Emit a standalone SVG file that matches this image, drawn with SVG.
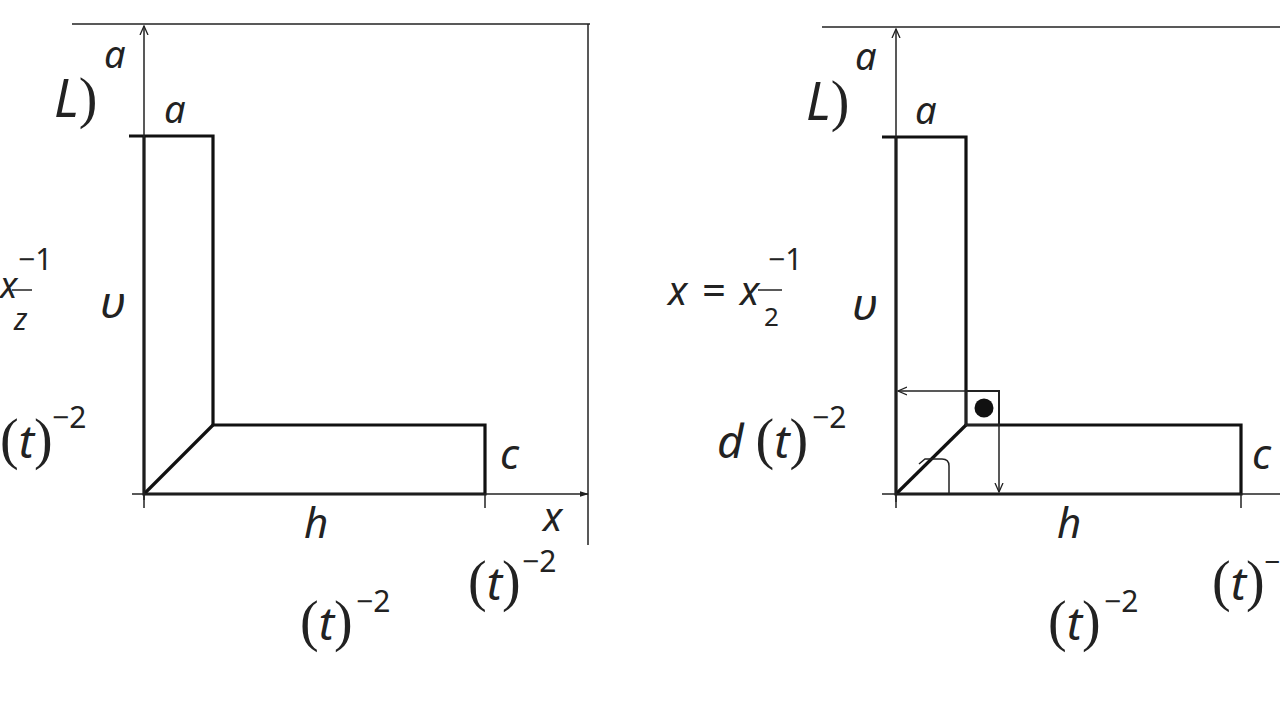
<svg xmlns="http://www.w3.org/2000/svg" width="1280" height="720" viewBox="0 0 1280 720">
<style>
.thin{stroke:#222;stroke-width:1.5;fill:none}
.thick{stroke:#111;stroke-width:3.2;fill:none;stroke-linejoin:miter}
.it{font-family:"Noto Sans","DejaVu Sans",sans-serif;font-style:italic;fill:#222}
.rm{font-family:"Noto Sans","DejaVu Sans",sans-serif;fill:#222}
.par{font-style:normal;font-size:56px;font-family:"Liberation Serif","DejaVu Serif",serif}
</style>
<defs>
<marker id="open" viewBox="0 0 10 10" refX="9" refY="5" markerWidth="10" markerHeight="10" orient="auto" markerUnits="userSpaceOnUse">
<path d="M0,1 L9,5 L0,9" fill="none" stroke="#222" stroke-width="1.3"/>
</marker>
<marker id="filled" viewBox="0 0 10 10" refX="9" refY="5" markerWidth="9" markerHeight="9" orient="auto" markerUnits="userSpaceOnUse">
<path d="M0,2 L10,5 L0,8 Z" fill="#222"/>
</marker>
</defs>
<rect width="1280" height="720" fill="#fff"/>

<!-- Left panel -->
<g id="left-frame">
<line class="thin" x1="72" y1="24" x2="590" y2="24"/>
<line class="thin" x1="588" y1="24" x2="588" y2="545"/>
</g>
<g id="left-shape">
<path class="thick" d="M129 136 H213 V425 H485 V494 H144 V136"/>
<line class="thick" x1="144" y1="494" x2="213" y2="425"/>
</g>
<g id="left-connectors">
<line class="thin" x1="144" y1="500" x2="144" y2="26" marker-end="url(#open)"/>
<line class="thin" x1="132" y1="494" x2="588" y2="494" marker-end="url(#filled)"/>
<line class="thin" x1="144" y1="494" x2="144" y2="508"/>
<line class="thin" x1="485" y1="494" x2="485" y2="508"/>
</g>
<g id="left-labels">
<text class="it" x="104" y="68" font-size="38">a</text>
<text class="it" x="54" y="117" font-size="52">L<tspan class="par" font-style="italic">)</tspan></text>
<text class="it" x="164" y="123" font-size="38">a</text>
<text class="it" x="0" y="298" font-size="36">x</text>
<line class="thin" x1="12" y1="290" x2="32" y2="290"/>
<text class="it" x="14" y="330" font-size="30">z</text>
<text class="rm" x="18" y="270" font-size="30">−1</text>
<text class="it" x="100" y="318" font-size="44">υ</text>
<text class="it" x="0" y="458" font-size="46"><tspan class="par">(</tspan>t<tspan class="par">)</tspan></text>
<text class="rm" x="52" y="428" font-size="30">−2</text>
<text class="it" x="500" y="469" font-size="42">c</text>
<text class="it" x="304" y="538" font-size="42">h</text>
<text class="it" x="543" y="531" font-size="40">x</text>
<text class="it" x="468" y="600" font-size="46"><tspan class="par">(</tspan>t<tspan class="par">)</tspan></text>
<text class="rm" x="522" y="572" font-size="30">−2</text>
<text class="it" x="300" y="640" font-size="46"><tspan class="par">(</tspan>t<tspan class="par">)</tspan></text>
<text class="rm" x="356" y="612" font-size="30">−2</text>
</g>

<!-- Right panel -->
<g id="right-frame">
<line class="thin" x1="822" y1="27" x2="1280" y2="27"/>
</g>
<g id="right-shape">
<path class="thick" d="M882 137 H966 V425 H1241 V494 H896 V137"/>
<line class="thick" x1="896" y1="494" x2="966" y2="425"/>
</g>
<g id="right-box">
<rect x="966" y="391" width="33" height="34" fill="none" stroke="#222" stroke-width="2"/>
<circle cx="984" cy="408" r="9.5" fill="#111"/>
</g>
<g id="right-connectors">
<line class="thin" x1="896" y1="502" x2="896" y2="29" marker-end="url(#open)"/>
<line class="thin" x1="882" y1="494" x2="1280" y2="494"/>
<line class="thin" x1="896" y1="494" x2="896" y2="508"/>
<line class="thin" x1="1241" y1="494" x2="1241" y2="508"/>
<line class="thin" x1="966" y1="391" x2="898" y2="391" marker-end="url(#open)" stroke-width="2"/>
<line class="thin" x1="999" y1="425" x2="999" y2="492" marker-end="url(#open)" stroke-width="2"/>
<path class="thin" stroke-width="2" d="M919 464 L925 459 H942 Q949 459 949 466 V494"/>
</g>
<g id="right-labels">
<text class="it" x="855" y="70" font-size="38">a</text>
<text class="it" x="806" y="120" font-size="52">L<tspan class="par" font-style="italic">)</tspan></text>
<text class="it" x="915" y="124" font-size="38">a</text>
<text class="it" x="668" y="305" font-size="40">x</text>
<text class="rm" x="702" y="305" font-size="42">=</text>
<text class="it" x="740" y="305" font-size="40">x</text>
<line class="thin" x1="758" y1="290" x2="782" y2="290"/>
<text class="rm" x="764" y="326" font-size="26">2</text>
<text class="rm" x="768" y="270" font-size="30">−1</text>
<text class="it" x="852" y="320" font-size="44">υ</text>
<text class="it" x="717" y="458" font-size="46">d <tspan class="par">(</tspan>t<tspan class="par">)</tspan></text>
<text class="rm" x="812" y="428" font-size="30">−2</text>
<text class="it" x="1252" y="469" font-size="42">c</text>
<text class="it" x="1057" y="538" font-size="42">h</text>
<text class="it" x="1212" y="600" font-size="46"><tspan class="par">(</tspan>t<tspan class="par">)</tspan><tspan class="rm" font-style="normal" font-size="28" dy="-28">−</tspan></text>
<text class="it" x="1048" y="640" font-size="46"><tspan class="par">(</tspan>t<tspan class="par">)</tspan></text>
<text class="rm" x="1104" y="612" font-size="30">−2</text>
</g>
</svg>
